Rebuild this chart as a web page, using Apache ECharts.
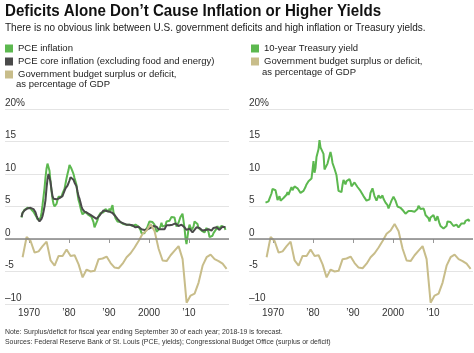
<!DOCTYPE html>
<html>
<head>
<meta charset="utf-8">
<script src="https://cdn.jsdelivr.net/npm/echarts@6/dist/echarts.min.js"></script>
<style>
  html, body { margin: 0; padding: 0; background: #fff; }
  #chart { width: 474px; height: 353px; }
</style>
</head>
<body>
<div id="chart"></div>
<script>
// quarterly series start in 1968 Q1, budget balance is one value per fiscal year from 1968
var quarterStart = 1968;
var budgetStart = 1968;

var pceInflation = [
  3.3, 4.0, 4.3, 4.5,   4.6, 4.7, 4.8, 4.9,   4.8, 4.7, 4.5, 4.5,   4.2, 4.2, 3.9, 3.4,
  3.0, 2.8, 2.9, 3.2,   4.0, 5.2, 6.5, 7.8,   9.5, 10.8, 11.6, 11.8, 10.5, 8.8, 7.4, 6.2,
  5.4, 5.0, 5.2, 5.4,   6.0, 6.5, 6.3, 6.3,   6.5, 7.0, 7.2, 7.7,   8.5, 9.3, 10.0, 10.6,
  11.4, 11.7, 10.8, 10.4, 10.0, 9.4, 9.1, 8.3, 7.0, 6.0, 5.5, 4.8,  4.2, 3.8, 3.8, 3.9,
  4.2, 4.2, 4.0, 3.7,   3.6, 3.5, 3.4, 3.4,   2.6, 1.8, 1.6, 1.9,   2.9, 3.5, 3.8, 4.0,
  3.8, 3.9, 4.1, 4.2,   4.6, 4.9, 4.3, 4.2,   4.7, 4.3, 4.8, 5.2,   4.1, 3.7, 3.2, 2.9,
  2.7, 2.7, 2.7, 2.6,   2.5, 2.4, 2.3, 2.2,   2.0, 2.2, 2.3, 2.2,   2.2, 2.1, 2.0, 2.0,
  2.2, 2.3, 2.2, 2.4,   2.2, 1.9, 1.7, 1.4,   0.9, 0.8, 0.8, 0.9,   1.3, 1.6, 1.9, 2.2,
  2.7, 2.6, 2.7, 2.6,   2.4, 2.2, 1.7, 1.1,   1.1, 1.2, 1.6, 2.0,   2.5, 1.9, 2.0, 1.9,
  2.1, 2.7, 2.6, 3.0,   2.8, 2.7, 3.4, 3.2,   3.2, 3.3, 2.6, 1.9,   2.2, 2.5, 2.3, 3.4,
  3.6, 3.9, 4.1, 1.7,   0.1, -0.8, -1.1, 1.5, 2.2, 1.8, 1.4, 1.3,   1.9, 2.7, 2.9, 2.7,
  2.3, 1.7, 1.5, 1.6,   1.3, 1.2, 1.3, 1.0,   1.2, 1.7, 1.6, 1.1,   0.3, 0.2, 0.3, 0.5,
  0.9, 0.9, 1.0, 1.6,   2.0, 1.5, 1.6, 1.8,   2.0, 2.3, 2.2, 1.8,   1.4
];

var pceCore = [
  3.4, 4.0, 4.3, 4.4,   4.5, 4.6, 4.7, 4.8,   4.8, 4.8, 4.7, 4.7,   4.6, 4.4, 4.1, 3.6,
  3.2, 2.9, 2.7, 2.8,   3.1, 3.5, 4.2, 5.0,   6.0, 7.8, 9.2, 10.0,  10.0, 8.8, 7.6, 6.6,
  6.2, 6.1, 6.3, 6.1,   6.0, 6.1, 6.3, 6.3,   6.4, 6.6, 7.0, 7.4,   7.8, 7.9, 8.2, 8.6,
  9.0, 9.5, 9.4, 9.2,   9.1, 8.7, 8.5, 8.1,   7.3, 6.6, 6.2, 5.6,   5.0, 4.6, 4.3, 4.2,
  4.3, 4.2, 4.0, 3.8,   3.8, 3.7, 3.6, 3.6,   3.4, 3.4, 3.2, 3.1,   3.3, 3.4, 3.6, 3.8,
  4.0, 4.2, 4.4, 4.4,   4.6, 4.3, 4.1, 4.1,   4.2, 4.2, 4.0, 4.0,   4.0, 3.7, 3.5, 3.3,
  3.1, 3.0, 2.8, 2.6,   2.5, 2.4, 2.4, 2.3,   2.2, 2.2, 2.2, 2.1,   2.2, 2.2, 2.1, 2.1,
  1.9, 1.9, 1.8, 1.8,   1.9, 1.9, 1.7, 1.6,   1.5, 1.4, 1.3, 1.4,   1.4, 1.4, 1.5, 1.6,
  1.6, 1.7, 1.7, 1.9,   2.0, 1.9, 1.9, 1.9,   1.7, 1.5, 1.6, 1.6,   1.5, 1.4, 1.4, 1.5,
  1.8, 2.1, 2.1, 2.2,   2.1, 2.1, 2.2, 2.2,   2.1, 2.3, 2.4, 2.3,   2.3, 2.0, 2.0, 2.2,
  2.2, 2.2, 2.3, 1.8,   1.6, 1.4, 1.3, 1.5,   1.6, 1.5, 1.3, 1.0,   1.0, 1.4, 1.6, 1.8,
  1.9, 1.8, 1.7, 1.7,   1.4, 1.3, 1.3, 1.3,   1.4, 1.6, 1.6, 1.5,   1.3, 1.3, 1.3, 1.4,
  1.7, 1.7, 1.7, 1.8,   1.8, 1.5, 1.4, 1.5,   1.7, 1.9, 2.0, 1.9,   1.8
];

var treasury10y = [
  5.6, 5.7, 5.5, 5.8,   6.2, 6.4, 7.0, 7.7,   7.6, 7.8, 7.5, 6.8,   6.0, 6.3, 6.6, 5.9,
  6.0, 6.1, 6.3, 6.4,   6.6, 6.8, 7.2, 6.8,   7.1, 7.6, 8.0, 7.5,   7.5, 8.1, 8.4, 8.2,
  7.8, 7.9, 7.8, 7.1,   7.4, 7.4, 7.4, 7.6,   8.0, 8.4, 8.5, 8.9,   9.1, 9.1, 9.3, 10.6,
  12.0, 10.2, 10.9, 12.6, 12.9, 13.8, 15.2, 14.1, 14.3, 13.9, 13.1, 10.7, 10.6, 10.6, 11.6, 11.8,
  11.9, 13.4, 12.7, 11.7, 11.6, 10.8, 10.3, 9.8, 8.6, 7.4, 7.3, 7.3,  7.2, 8.3, 9.1, 9.1,
  8.4, 8.9, 9.1, 8.8,   9.2, 8.8, 8.1, 7.9,   8.4, 8.7, 8.7, 8.4,   8.0, 8.1, 7.9, 7.4,
  7.3, 7.4, 6.6, 6.7,   6.3, 5.9, 5.6, 5.6,   6.1, 7.1, 7.3, 7.8,   7.5, 6.6, 6.3, 5.9,
  5.9, 6.7, 6.7, 6.3,   6.6, 6.7, 6.2, 5.9,   5.6, 5.6, 5.2, 4.7,   5.0, 5.5, 5.9, 6.1,
  6.5, 6.2, 5.9, 5.6,   5.0, 5.3, 5.0, 4.8,   5.1, 5.1, 4.3, 4.0,   3.9, 3.6, 4.2, 4.3,
  4.0, 4.6, 4.3, 4.2,   4.3, 4.2, 4.2, 4.5,   4.6, 5.1, 4.9, 4.6,   4.7, 4.8, 4.7, 4.3,
  3.7, 3.9, 3.9, 3.2,   2.7, 3.3, 3.5, 3.5,   3.7, 3.5, 2.8, 2.9,   3.5, 3.2, 2.4, 2.0,
  2.0, 1.8, 1.6, 1.7,   1.9, 2.0, 2.7, 2.7,   2.8, 2.6, 2.5, 2.3,   2.0, 2.2, 2.2, 2.2,
  1.9, 1.8, 1.6, 2.1,   2.4, 2.3, 2.2, 2.4,   2.8, 2.9, 2.9, 3.0,   2.7
];

var budgetBalance = [
  -2.8, 0.3, -0.3, -2.1, -1.9, -1.1, -0.4, -3.3, -4.1, -2.6,
  -2.6, -1.6, -2.6, -2.5, -3.9, -5.9, -4.7, -5.0, -4.9, -3.1,
  -3.0, -2.7, -3.7, -4.4, -4.5, -3.8, -2.8, -2.2, -1.3, -0.3,
  0.8, 1.3, 2.3, 1.2, -1.5, -3.3, -3.4, -2.5, -1.8, -1.1,
  -3.1, -9.8, -8.7, -8.4, -6.7, -4.1, -2.8, -2.4, -3.1, -3.4,
  -3.8, -4.6
];

var tickYears = [1970, 1980, 1990, 2000, 2010];
var tickLabels = ['1970', '\u201980', '\u201990', '2000', '\u201910'];
var yTicks = [-10, -5, 0, 5, 10, 15, 20];
var yTickLabels = ['\u201310', '-5', '0', '5', '10', '15', '20%'];

var GREEN = '#5cb84f';
var DARK = '#4a4a4a';
var TAN = '#c8bd8a';
var FONT = "'Liberation Sans', Arial, sans-serif";

function quarterly(vals) {
  return vals.map(function (v, i) { return [quarterStart + i / 4 + 0.125, v]; });
}
function annual(vals) {
  return vals.map(function (v, i) { return [budgetStart + i + 0.4, v]; });
}

var myChart = echarts.init(document.getElementById('chart'), null, { renderer: 'canvas' });

function xAxisCfg(idx) {
  return {
    type: 'value', gridIndex: idx, min: 1964, max: 2020,
    axisLine: { show: false },
    splitLine: { show: false },
    axisTick: { show: true, customValues: tickYears, length: 4, lineStyle: { color: '#999' } },
    axisLabel: {
      customValues: tickYears, margin: 4, fontSize: 10, color: '#333', fontFamily: FONT,
      formatter: function (v) { return tickLabels[tickYears.indexOf(v)]; }
    }
  };
}
function yAxisCfg(idx) {
  return {
    type: 'value', gridIndex: idx, min: -10, max: 20, interval: 5,
    axisLine: { show: false }, axisTick: { show: false },
    splitLine: { lineStyle: { color: '#e4e4e4', width: 1 } },
    axisLabel: {
      inside: true, margin: 0, align: 'left', verticalAlign: 'bottom',
      padding: [0, 0, 1, 0], fontSize: 10, color: '#333', fontFamily: FONT,
      formatter: function (v) { return yTickLabels[yTicks.indexOf(v)]; }
    }
  };
}
var zeroLine = {
  silent: true, symbol: 'none', label: { show: false },
  lineStyle: { color: '#858585', width: 1.5, type: 'solid' },
  data: [{ yAxis: 0 }]
};
var legendText = { fontSize: 9.5, color: '#222', fontFamily: FONT, lineHeight: 11 };

// condensed text: the original uses a narrow face, so squeeze horizontally
function squeezed(str, x, y, size, scale, weight, fill) {
  return {
    type: 'text', x: x, y: y, scaleX: scale, silent: true,
    style: {
      text: str, fontSize: size, fontWeight: weight, fill: fill,
      fontFamily: FONT, verticalAlign: 'middle', align: 'left'
    }
  };
}

var option = {
  animation: false,
  backgroundColor: '#fff',
  textStyle: { fontFamily: FONT },
  legend: [
    {
      left: 5, top: 43, orient: 'vertical', padding: 0, itemGap: 2,
      itemWidth: 8, itemHeight: 8, icon: 'rect', textStyle: legendText,
      data: ['PCE inflation', 'PCE core inflation (excluding food and energy)', 'Government budget surplus or deficit,']
    },
    {
      left: 251, top: 43, orient: 'vertical', padding: 0, itemGap: 2,
      itemWidth: 8, itemHeight: 8, icon: 'rect', textStyle: legendText,
      data: ['10-year Treasury yield', 'Government budget surplus or deficit,']
    }
  ],
  graphic: [
    squeezed('Deficits Alone Don\u2019t Cause Inflation or Higher Yields', 5, 11, 17, 0.89, 'bold', '#111'),
    squeezed('There is no obvious link between U.S. government deficits and high inflation or Treasury yields.', 5, 28, 11.5, 0.87, 'normal', '#222'),
    squeezed('as percentage of GDP', 16, 84, 9.5, 1, 'normal', '#222'),
    squeezed('as percentage of GDP', 262, 72, 9.5, 1, 'normal', '#222'),
    squeezed('Note: Surplus/deficit for fiscal year ending September 30 of each year; 2018-19 is forecast.', 5, 332, 8, 0.865, 'normal', '#333'),
    squeezed('Sources: Federal Reserve Bank of St. Louis (PCE, yields); Congressional Budget Office (surplus or deficit)', 5, 342, 8, 0.865, 'normal', '#333')
  ],
  grid: [
    { left: 5, width: 224, top: 109, height: 195 },
    { left: 249, width: 224, top: 109, height: 195 }
  ],
  xAxis: [xAxisCfg(0), xAxisCfg(1)],
  yAxis: [yAxisCfg(0), yAxisCfg(1)],
  series: [
    {
      name: 'PCE inflation', type: 'line', xAxisIndex: 0, yAxisIndex: 0,
      data: quarterly(pceInflation), showSymbol: false, color: GREEN,
      lineStyle: { width: 2, color: GREEN }, markLine: zeroLine
    },
    {
      name: 'PCE core inflation (excluding food and energy)', type: 'line', xAxisIndex: 0, yAxisIndex: 0,
      data: quarterly(pceCore), showSymbol: false, color: DARK,
      lineStyle: { width: 2, color: DARK }
    },
    {
      name: 'Government budget surplus or deficit,', type: 'line', xAxisIndex: 0, yAxisIndex: 0,
      data: annual(budgetBalance), showSymbol: false, color: TAN,
      lineStyle: { width: 2, color: TAN }
    },
    {
      name: '10-year Treasury yield', type: 'line', xAxisIndex: 1, yAxisIndex: 1,
      data: quarterly(treasury10y), showSymbol: false, color: GREEN,
      lineStyle: { width: 2, color: GREEN }, markLine: zeroLine
    },
    {
      name: 'Government budget surplus or deficit,', type: 'line', xAxisIndex: 1, yAxisIndex: 1,
      data: annual(budgetBalance), showSymbol: false, color: TAN,
      lineStyle: { width: 2, color: TAN }
    }
  ]
};
myChart.setOption(option);
</script>
</body>
</html>
